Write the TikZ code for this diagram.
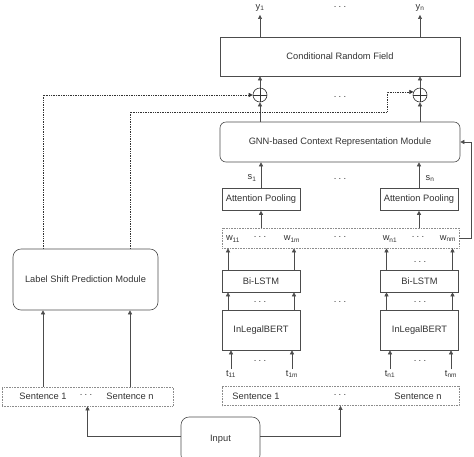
\documentclass[tikz,border=0pt]{standalone}
\usepackage{fontspec}
\setmainfont{Liberation Sans}
\usetikzlibrary{arrows.meta, positioning, calc}
\newcommand{\middots}{\textperiodcentered\hspace{1.8pt}\textperiodcentered\hspace{1.8pt}\textperiodcentered}

\begin{document}
\begin{tikzpicture}[
    x=1pt, y=-1pt,
    font=\fontsize{9.3}{11}\selectfont, text=black!80,
    box/.style 2 args={draw=black!70, line width=0.6pt, minimum width=#1, minimum height=#2, inner sep=0pt},
    dotbox/.style 2 args={draw=black!45, densely dotted, line width=0.6pt, minimum width=#1, minimum height=#2, inner sep=0pt},
    arr/.style={draw=black!70, line width=0.6pt, -{Triangle[length=4pt,width=4pt]}},
    dotarr/.style={draw=black!80, densely dotted, line width=0.7pt, -{Triangle[length=4pt,width=4pt]}},
    oplus/.style={circle, draw=black!80, line width=0.6pt, minimum size=14pt, inner sep=0pt,
        path picture={\draw[black!80, line width=0.6pt] (path picture bounding box.north) -- (path picture bounding box.south)
            (path picture bounding box.west) -- (path picture bounding box.east);}},
    tok/.style={inner sep=1pt}
]
    \useasboundingbox (0,0) rectangle (474,456);

    % CRF and outputs
    \node[box={240}{39}] (crf) at (340,56.5) {Conditional Random Field};
    \node (y1) at (260,8) {y\textsubscript{1}};
    \node (yn) at (420,8) {y\textsubscript{n}};
    \node at (340,8) {\middots};
    \draw[arr] (crf.north -| y1) -- (y1.south);
    \draw[arr] (crf.north -| yn) -- (yn.south);

    % fusion
    \node[oplus] (op1) at (260,95) {};
    \node[oplus] (op2) at (420,95) {};
    \node at (340,98) {\middots};
    \draw[arr] (op1.north) -- (op1.north |- crf.south);
    \draw[arr] (op2.north) -- (op2.north |- crf.south);

    % GNN context module
    \node[box={240}{40}, rounded corners=6pt] (gnn) at (340,142) {GNN-based Context Representation Module};
    \draw[arr] (gnn.north -| op1) -- (op1.south);
    \draw[arr] (gnn.north -| op2) -- (op2.south);

    % attention pooling
    \node[box={78}{22}] (att1) at (261,199.5) {Attention Pooling};
    \node[box={78}{22}] (att2) at (419,199.5) {Attention Pooling};
    \node (s1) at (252,178) {s\textsubscript{1}};
    \node (sn) at (430,178) {s\textsubscript{n}};
    \node at (340,180) {\middots};
    \draw[arr] (att1.north) -- (att1.north |- gnn.south);
    \draw[arr] (att2.north) -- (att2.north |- gnn.south);

    % word representations
    \node[dotbox={237}{20}] (wbox) at (340.5,238) {};
    \node[tok] (w11) at (233,239) {w\textsubscript{11}};
    \node at (260,238) {\middots};
    \node[tok] (w1m) at (292,239) {w\textsubscript{1m}};
    \node at (340,238) {\middots};
    \node[tok] (wn1) at (390,239) {w\textsubscript{n1}};
    \node at (418,238) {\middots};
    \node[tok] (wnm) at (448,239) {w\textsubscript{nm}};
    \draw[arr] (wbox.north -| att1) -- (att1.south);
    \draw[arr] (wbox.north -| att2) -- (att2.south);
    \draw[arr] (wbox.east) -- ++(12,0) |- (gnn.east);

    % Bi-LSTM
    \node[box={78}{22}] (lstm1) at (261,281) {Bi-LSTM};
    \node[box={78}{22}] (lstm2) at (419.5,281) {Bi-LSTM};
    \node at (420,263) {\middots};
    \foreach \d in {-33,33} {
        \draw[arr] ([xshift=\d pt]lstm1.north) -- ([xshift=\d pt]lstm1.north |- wbox.south);
        \draw[arr] ([xshift=\d pt]lstm2.north) -- ([xshift=\d pt]lstm2.north |- wbox.south);
    }

    % InLegalBERT
    \node[box={78}{40}] (bert1) at (261,330) {InLegalBERT};
    \node[box={78}{40}] (bert2) at (419.5,330) {InLegalBERT};
    \node at (260,303) {\middots};
    \node at (340,303) {\middots};
    \node at (420,303) {\middots};
    \foreach \d in {-33,33} {
        \draw[arr] ([xshift=\d pt]bert1.north) -- ([xshift=\d pt]bert1.north |- lstm1.south);
        \draw[arr] ([xshift=\d pt]bert2.north) -- ([xshift=\d pt]bert2.north |- lstm2.south);
    }

    % tokens
    \node[tok] (t11) at (231,374) {t\textsubscript{11}};
    \node[tok] (t1m) at (292,374) {t\textsubscript{1m}};
    \node[tok] (tn1) at (390,374) {t\textsubscript{n1}};
    \node[tok] (tnm) at (451,374) {t\textsubscript{nm}};
    \node at (260,362) {\middots};
    \node at (420,362) {\middots};
    \foreach \t in {t11,t1m,tn1,tnm}
        \draw[arr] (\t.north) -- (\t.north |- bert1.south);

    % sentences (right)
    \node[dotbox={237}{19}] (sentr) at (340.5,396) {};
    \node at (256,396) {Sentence 1};
    \node at (340,396) {\middots};
    \node at (418,396) {Sentence n};

    % sentences (left)
    \node[dotbox={171}{19}] (sentl) at (87.5,396.5) {};
    \node (sl1) at (43,396) {Sentence 1};
    \node at (86,396) {\middots};
    \node (sln) at (130,396) {Sentence n};

    % label shift module
    \node[box={145}{61}, rounded corners=8pt] (lsp) at (85.5,279.5) {Label Shift Prediction Module};
    \draw[arr] (sentl.north -| sl1) -- (lsp.south -| sl1);
    \draw[arr] (sentl.north -| sln) -- (lsp.south -| sln);

    % label shift to fusion
    \coordinate (turn) at (387,112);
    \draw[dotarr] (lsp.north -| sl1) |- (op1.west);
    \draw[dotarr] (lsp.north -| sln) |- (turn) |- (op2.155);

    % input
    \node[box={79}{46}, rounded corners=8pt] (input) at (220.5,440) {\raisebox{4pt}{Input}};
    \draw[arr] ([yshift=4pt]input.west) -| (sentl.south);
    \draw[arr] ([yshift=4pt]input.east) -| (sentr.south);
\end{tikzpicture}
\end{document}
